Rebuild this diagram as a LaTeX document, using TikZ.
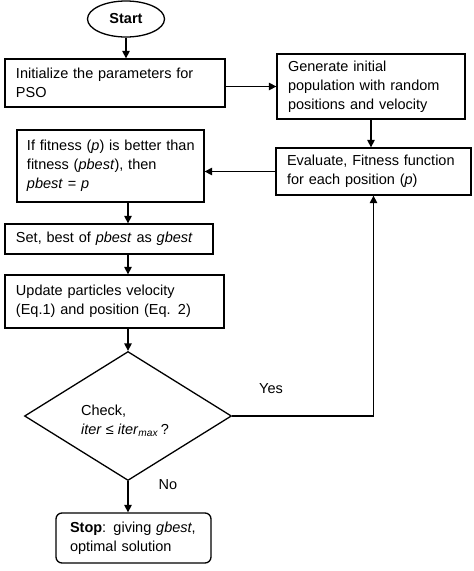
\documentclass[tikz,border=0pt]{standalone}
\usepackage{fontspec}
\setmainfont{Liberation Sans}
\usetikzlibrary{shapes.geometric,arrows.meta}
\begin{document}
\begin{tikzpicture}[x=1pt,y=-1pt,
  every node/.style={font=\fontsize{14.5}{19}\selectfont},
  box/.style={draw, line width=1.3pt, rectangle, align=left, inner xsep=11pt, inner ysep=0pt},
  arr/.style={line width=1.3pt, -{Triangle[length=7.5pt,width=7.5pt]}},
  lbl/.style={inner sep=0pt}]
\useasboundingbox (0,0) rectangle (474,571);

\node[draw, ellipse, line width=1.3pt, minimum width=77pt, minimum height=36pt, inner sep=0pt,
  font=\fontsize{14.5}{19}\selectfont\bfseries] (start) at (126,19) {Start};

\node[box, minimum width=220pt, minimum height=48pt, text width=198pt] (init) at (115,83)
  {Initialize the parameters for\\PSO};

\node[box, minimum width=188pt, minimum height=65pt, text width=166pt] (gen) at (371,86.5)
  {Generate initial\\population with random\\positions and velocity};

\node[box, minimum width=195pt, minimum height=47pt, text width=173pt] (eval) at (373.5,171.5)
  {Evaluate, Fitness function\\for each position (\textit{p})};

\node[box, inner xsep=10pt, minimum width=187pt, minimum height=72pt, text width=167pt] (fit) at (110.5,166)
  {\mbox{If fitness (\textit{p}) is better than}\\fitness (\textit{pbest}), then\\\textit{pbest} = \textit{p}};

\node[box, minimum width=208pt, minimum height=30pt, text width=186pt] (set) at (109,239)
  {Set, best of \textit{pbest} as \textit{gbest}};

\node[box, minimum width=219pt, minimum height=53pt, text width=197pt] (upd) at (114.5,301.5)
  {Update particles velocity\\(Eq.1) and position (Eq. 2)};

\node[draw, diamond, line width=1.3pt, minimum width=207pt, minimum height=129pt, inner sep=0pt] (dec) at (128,416) {};
\node[lbl, align=left] (dectxt) at (125,421)
  {Check,\\ \textit{iter} ≤ \textit{iter}\textsubscript{\textit{max}}\,?};

\node[box, rounded corners=6pt, inner xsep=14pt, minimum width=155pt, minimum height=50pt, text width=127pt] (stop) at (133.5,538)
  {\mbox{\textbf{Stop}: giving \textit{gbest},}\\optimal solution};

\node[lbl] (yes) at (271,389) {Yes};
\node[lbl] (no) at (168,485) {No};

\draw[arr] (start.south) -- (start.south |- init.north);
\draw[arr] (gen.west -| init.east) -- (gen.west);
\draw[arr] (gen.south) -- (gen.south |- eval.north);
\draw[arr] (eval.west) -- (eval.west -| fit.east);
\draw[arr] (fit.south -| dec.north) -- (set.north -| dec.north);
\draw[arr] (set.south -| dec.north) -- (upd.north -| dec.north);
\draw[arr] (upd.south -| dec.north) -- (dec.north);
\draw[arr] (dec.east) -| (eval.south);
\draw[arr] (dec.south) -- (dec.south |- stop.north);
\end{tikzpicture}
\end{document}
